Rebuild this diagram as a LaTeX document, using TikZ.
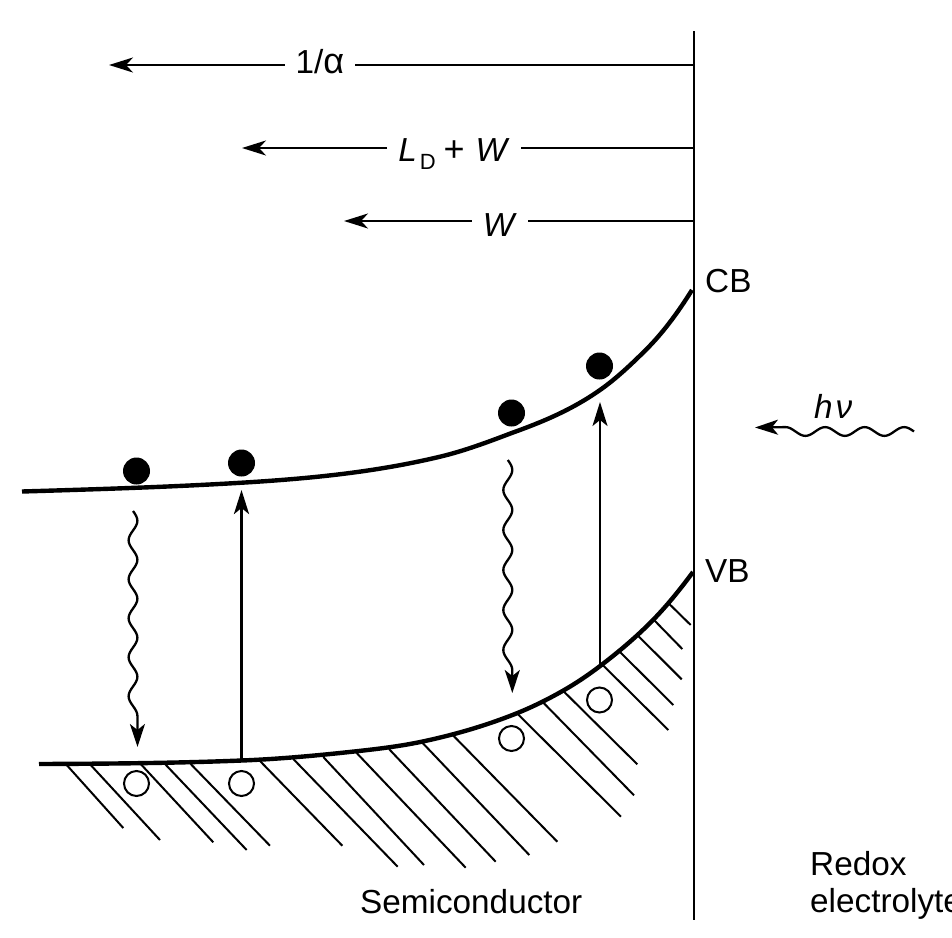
\documentclass[tikz,border=0pt]{standalone}
\usepackage{fontspec}
\setmainfont{Liberation Sans}
\usetikzlibrary{arrows.meta}
\tikzset{
  lab/.style={font=\fontsize{33.3}{36}\selectfont,inner ysep=0pt,inner xsep=11pt,anchor=base},
  plainlab/.style={font=\fontsize{33.3}{36}\selectfont,inner sep=0pt,anchor=base west},
  dimline/.style={line width=2.2pt},
  dimarrow/.style={line width=2.2pt,-{Stealth[length=24pt,width=15pt,inset=7pt]}},
  band/.style={line width=4.4pt},
  hatch/.style={line width=2pt},
  excite/.style={-{Stealth[length=24pt,width=15pt,inset=6pt]}},
  wavy/.style={line width=2.3pt,line join=round,-{Stealth[length=23pt,width=15pt,inset=6pt]}},
  electron/.style={circle,fill=black,draw=none,minimum size=27pt,inner sep=0pt},
  hole/.style={circle,draw=black,line width=2pt,fill=white,minimum size=25pt,inner sep=0pt}
}
\begin{document}
\begin{tikzpicture}[x=1pt,y=-1pt]
\useasboundingbox (0,0) rectangle (952,937);
% interface
\coordinate (top) at (694,31);
\coordinate (bot) at (694,920);
\draw[line width=2.6pt] (top) -- (bot);
% dimensions
\coordinate (r1) at (694,65); \coordinate (t1) at (109,65);
\coordinate (r2) at (694,148); \coordinate (t2) at (242,148);
\coordinate (r3) at (694,221); \coordinate (t3) at (344,221);
\node[lab] (alpha) at (320,73) {1/{\fontsize{36}{36}\selectfont α}};
\node[lab] (ld) at (454,161) {\textit{L}\hspace{3pt}{\raisebox{-8pt}{\fontsize{22}{24}\selectfont D}}\hspace{8pt}{\fontsize{36}{36}\selectfont +}\hspace{11pt}\textit{W}};
\node[lab] (w) at (500,236) {\textit{W}};
\draw[dimline] (r1) -- (r1 -| alpha.east);
\draw[dimarrow] (t1 -| alpha.west) -- (t1);
\draw[dimline] (r2) -- (r2 -| ld.east);
\draw[dimarrow] (t2 -| ld.west) -- (t2);
\draw[dimline] (r3) -- (r3 -| w.east);
\draw[dimarrow] (t3 -| w.west) -- (t3);
% hatching under the valence band
\foreach \a/\b/\c/\d in {
 66.7/765/123.3/828, 90.7/765/160/840, 140.7/764/213.3/842.3, 165/764/246.7/850,
 190.7/764/270/845.7, 260/761/342.3/845.7, 293.3/759/397.7/866.7, 323.3/757/424/865,
 356.7/753/465.7/867.7, 389/749/495.7/861.7, 421.7/742/529.3/855, 452.7/735/557.3/841.7,
 516.7/713/621/816.7, 542.7/702/634/795.3, 563.3/691/637.3/764.3, 602.7/665/668.3/730,
 620/652/673.3/705, 638.3/636/681.7/679.3, 654/620/682.3/649, 669.3/604/690.7/625}
 \draw[hatch] (\a,\b) -- (\c,\d);
% bands
\draw[band] (22,491.5)
  .. controls (95.2,489.3) and (168.5,487.1) .. (241.7,482.7)
  .. controls (307.8,478.7) and (374,472.5) .. (440,456.7)
  .. controls (464,451) and (487.7,442.1) .. (511.7,433)
  .. controls (541.1,422.4) and (570.6,410.6) .. (600,390)
  .. controls (615.6,379.1) and (631.1,364.6) .. (646.7,349)
  .. controls (661.8,333.9) and (676.9,314.2) .. (692,290);
\draw[band] (39,764)
  .. controls (106.6,763.7) and (174.1,763.2) .. (241.7,760.5)
  .. controls (274.5,759.2) and (307.2,756.4) .. (340,753)
  .. controls (367.2,750.1) and (394.5,747.4) .. (421.7,741.7)
  .. controls (453.4,735) and (485,726) .. (516.7,713.3)
  .. controls (532.1,707.1) and (547.6,699.5) .. (563,690.7)
  .. controls (576.2,683.2) and (589.5,674.2) .. (602.7,664)
  .. controls (619.5,651.1) and (636.2,637.1) .. (653,620)
  .. controls (666.3,606.4) and (679.7,590) .. (693,572);
% carriers
\node[electron] (e1) at (136.5,471) {};
\node[electron] (e2) at (241.5,463) {};
\node[electron] (e3) at (511.5,413) {};
\node[electron] (e4) at (599.5,366) {};
\node[hole] (h1) at (136.5,783.5) {};
\node[hole] (h2) at (241.5,783.5) {};
\node[hole] (h3) at (511.5,738.5) {};
\node[hole] (h4) at (599.5,700) {};
% excitation arrows
\coordinate (a1s) at (241.5,761); \coordinate (a1e) at (241.5,490);
\coordinate (a2s) at (600,664); \coordinate (a2e) at (600,402);
\draw[excite,line width=3pt] (a1s) -- (a1e);
\draw[excite,line width=2.2pt] (a2s) -- (a2e);
% recombination waves
\coordinate (w1e) at (137.5,747);
\coordinate (w2e) at (512.3,693);
\coordinate (w3e) at (755,427.5);
\draw[wavy] plot[domain=0:5.25,samples=85,smooth] ({133+4.4*sin(360*\x)},{511+39*\x}) -- (w1e);
\draw[wavy] plot[domain=0:5.25,samples=85,smooth] ({507.8+4.5*sin(360*\x)},{460+40*\x}) -- (w2e);
\draw[wavy] plot[domain=0:3.25,samples=53,smooth] ({914-39.5*\x},{431.5-4.4*sin(360*\x)}) -- (w3e);
% labels
\node[plainlab] (cb) at (705,292) {CB};
\node[plainlab] (vb) at (705,582) {VB};
\node[plainlab] (hv) at (814,418) {\textit{h\hspace{3pt}ν}};
\node[plainlab] (sc) at (360,913) {Semiconductor};
\node[plainlab] (rd) at (810,875) {Redox};
\node[plainlab] (el) at (810,912) {electrolyte};
\end{tikzpicture}
\end{document}
